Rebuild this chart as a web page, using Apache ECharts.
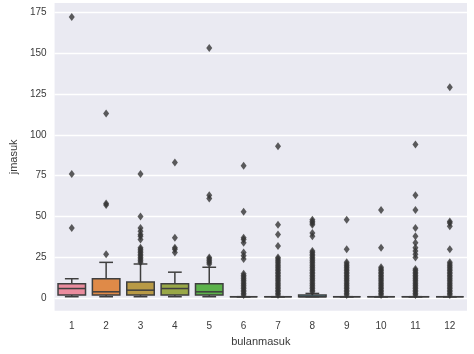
<!DOCTYPE html>
<html>
<head>
<meta charset="utf-8">
<script src="https://cdn.jsdelivr.net/npm/echarts@6/dist/echarts.min.js"></script>
<style>
  html, body { margin: 0; padding: 0; background: #ffffff; }
  #chart { width: 474px; height: 354px; }
</style>
</head>
<body>
<div id="chart"></div>
<script type="text/javascript">
// bulan (category) labels
var months = ['1', '2', '3', '4', '5', '6', '7', '8', '9', '10', '11', '12'];

// box stats per month: [min whisker, q1, median, q3, max whisker]
var boxStats = [
	[1, 2, 6, 9, 12],
	[1, 2, 4, 12, 22],
	[1, 2, 5, 10, 21],
	[1, 2, 6, 9, 16],
	[1, 2, 4, 9, 19],
	[1, 1, 1, 1, 1],
	[1, 1, 1, 1, 1],
	[1, 1, 1, 2, 3],
	[1, 1, 1, 1, 1],
	[1, 1, 1, 1, 1],
	[1, 1, 1, 1, 1],
	[1, 1, 1, 1, 1]
];

// outliers per month
var out1 = [43, 76, 172];
var out2 = [27, 57, 58, 113];
var out3 = [22, 23, 24, 25, 26, 27, 28, 29, 30, 31, 36, 38, 39, 41, 43, 50, 76];
var out4 = [28, 30, 31, 37, 83];
var out5 = [21, 22, 23, 24, 25, 61, 63, 153];
var out6 = [2, 3, 4, 5, 6, 7, 8, 9, 10, 11, 12, 13, 14, 15, 24, 26, 28, 34, 36, 37, 53, 81];
var out7 = [2, 3, 4, 5, 6, 7, 8, 9, 10, 11, 12, 13, 14, 15, 16, 17, 18, 19, 20, 21, 22, 23, 24, 25, 32, 39, 45, 93];
var out8 = [4, 5, 6, 7, 8, 9, 10, 11, 12, 13, 14, 15, 16, 17, 18, 19, 20, 21, 22, 23, 24, 25, 26, 27, 28, 29, 38, 40, 45, 46, 47, 48];
var out9 = [2, 3, 4, 5, 6, 7, 8, 9, 10, 11, 12, 13, 14, 15, 16, 17, 18, 19, 20, 21, 22, 30, 48];
var out10 = [2, 3, 4, 5, 6, 7, 8, 9, 10, 11, 12, 13, 14, 15, 16, 17, 18, 19, 31, 54];
var out11 = [2, 3, 4, 5, 6, 7, 8, 9, 10, 11, 12, 13, 14, 15, 16, 17, 18, 25, 27, 29, 31, 34, 38, 43, 54, 63, 94];
var out12 = [2, 3, 4, 5, 6, 7, 8, 9, 10, 11, 12, 13, 14, 15, 16, 17, 18, 19, 20, 21, 22, 30, 44, 46, 47, 129];
var outliers = [out1, out2, out3, out4, out5, out6, out7, out8, out9, out10, out11, out12];

// y tick labels
var yTicks = [0, 25, 50, 75, 100, 125, 150, 175];

var boxColors = ['#ea8c9e', '#df8a48', '#b89a46', '#99a847', '#5cb24b', '#48ad88',
	'#4aaaa4', '#4ca7bd', '#5a9fe0', '#a28fe0', '#d77be0', '#e07abb'];
var lineColor = '#3f3f3f';
var fontFam = "'Liberation Sans Narrow', 'Liberation Sans', Arial, sans-serif";

var boxData = [];
for (var i = 0; i < boxStats.length; i++) {
	boxData.push([i].concat(boxStats[i]));
}
var outData = [];
for (var i = 0; i < outliers.length; i++) {
	for (var j = 0; j < outliers[i].length; j++) {
		outData.push([i, outliers[i][j]]);
	}
}

function renderBox(params, api) {
	var x = api.value(0);
	var lo = api.coord([x, api.value(1)]);
	var q1 = api.coord([x, api.value(2)]);
	var md = api.coord([x, api.value(3)]);
	var q3 = api.coord([x, api.value(4)]);
	var hi = api.coord([x, api.value(5)]);
	var w = api.size([1, 0])[0] * 0.8;
	var cx = lo[0];
	var cap = w / 4;
	var ln = { stroke: lineColor, lineWidth: 1.5 };
	return {
		type: 'group',
		children: [
			{ type: 'line', shape: { x1: cx, y1: q3[1], x2: cx, y2: hi[1] }, style: ln },
			{ type: 'line', shape: { x1: cx, y1: q1[1], x2: cx, y2: lo[1] }, style: ln },
			{ type: 'line', shape: { x1: cx - cap, y1: hi[1], x2: cx + cap, y2: hi[1] }, style: ln },
			{ type: 'line', shape: { x1: cx - cap, y1: lo[1], x2: cx + cap, y2: lo[1] }, style: ln },
			{ type: 'rect', shape: { x: cx - w / 2, y: q3[1], width: w, height: q1[1] - q3[1] },
				style: { fill: boxColors[params.dataIndex], stroke: lineColor, lineWidth: 1.5 } },
			{ type: 'line', shape: { x1: cx - w / 2, y1: md[1], x2: cx + w / 2, y2: md[1] }, style: ln }
		]
	};
}

var myChart = echarts.init(document.getElementById('chart'), null, { renderer: 'canvas' });
var option = {
	backgroundColor: '#ffffff',
	animation: false,
	grid: {
		left: 50, right: 7, top: 3, bottom: 43.3,
		show: true, backgroundColor: '#eaeaf2', borderWidth: 0
	},
	xAxis: {
		type: 'category',
		data: months,
		boundaryGap: true,
		axisLine: { show: false },
		axisTick: { show: false },
		splitLine: { show: false },
		axisLabel: { color: '#3a3a3a', fontSize: 10, fontFamily: fontFam, margin: 11 },
		name: 'bulanmasuk',
		nameLocation: 'middle',
		nameGap: 25,
		nameTextStyle: { color: '#3a3a3a', fontSize: 11, fontFamily: fontFam }
	},
	yAxis: {
		type: 'value',
		min: -7.55,
		max: 180.55,
		axisLine: { show: false },
		axisTick: { show: false, customValues: yTicks },
		axisLabel: { color: '#3a3a3a', fontSize: 10, fontFamily: fontFam, margin: 8, customValues: yTicks },
		splitLine: { show: true, lineStyle: { color: '#ffffff', width: 1.3 } },
		name: 'jmasuk',
		nameLocation: 'middle',
		nameGap: 25,
		nameTextStyle: { color: '#3a3a3a', fontSize: 11, fontFamily: fontFam }
	},
	series: [
		{
			type: 'custom',
			renderItem: renderBox,
			encode: { x: 0, y: [1, 2, 3, 4, 5] },
			data: boxData,
			z: 2
		},
		{
			type: 'scatter',
			symbol: 'diamond',
			symbolSize: [6, 8],
			itemStyle: { color: '#353535' },
			data: outData,
			z: 3
		}
	]
};
myChart.setOption(option);
</script>
</body>
</html>
